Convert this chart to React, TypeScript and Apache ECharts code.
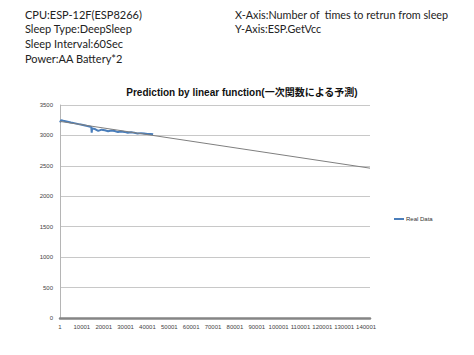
import React, { useEffect, useRef } from "react";
import * as echarts from "echarts";

const infoLeft = ["CPU:ESP-12F(ESP8266)", "Sleep Type:DeepSleep", "Sleep Interval:60Sec", "Power:AA Battery*2"];
const infoRight = ["X-Axis:Number of  times to retrun from sleep", "Y-Axis:ESP.GetVcc"];
const chartTitle = "Prediction by linear function(一次関数による予測)";

const realX = [1, 500, 1500, 3000, 5000, 7000, 9000, 11000, 13000, 14300, 14500, 14700, 16000, 17500, 19000, 20500, 22000, 23500, 25000, 26500, 28000, 29500, 31000, 32500, 34000, 35500, 37000, 38500, 40000, 41500, 42600];
const realY = [3215, 3250, 3240, 3228, 3212, 3198, 3182, 3168, 3152, 3140, 3045, 3115, 3105, 3075, 3095, 3085, 3070, 3082, 3072, 3055, 3066, 3058, 3045, 3052, 3043, 3030, 3038, 3030, 3022, 3025, 3018];

const trendX = [1, 141800];
const trendY = [3230, 2462];

export default function App() {
  const ref = useRef<HTMLDivElement>(null);
  useEffect(() => {
    if (!ref.current) return;
    const chart = echarts.init(ref.current, null, { renderer: "svg" });
    const textFont = "Lato, 'Liberation Sans', sans-serif";
    const graphics: any[] = [];
    infoLeft.forEach((t, i) => {
      graphics.push({
        type: "text",
        left: 25,
        top: 8.5 + i * 14.7,
        style: { text: t, fill: "#222", font: `11px ${textFont}` },
      });
    });
    infoRight.forEach((t, i) => {
      graphics.push({
        type: "text",
        left: 235,
        top: 8.5 + i * 14.7,
        style: { text: t, fill: "#222", font: `10.8px ${textFont}` },
      });
    });
    chart.setOption({
      animation: false,
      backgroundColor: "#fff",
      title: {
        text: chartTitle,
        left: 237,
        textAlign: "center",
        top: 82,
        textStyle: {
          fontSize: 10,
          fontWeight: "bold",
          color: "#111",
          fontFamily: "'Liberation Sans', 'Noto Sans CJK JP', sans-serif",
        },
      },
      graphic: graphics,
      legend: {
        data: ["Real Data"],
        left: 389,
        top: 211,
        itemWidth: 10,
        itemHeight: 2,
        itemGap: 2,
        icon: "rect",
        textStyle: { fontSize: 6, color: "#333", fontFamily: "'Liberation Sans', sans-serif", padding: [0, 0, 0, -3] },
      },
      grid: { left: 60, right: 104, top: 105, bottom: 37 },
      xAxis: {
        type: "value",
        min: 1,
        max: 141800,
        interval: 10000,
        axisLine: { show: true, onZero: false, lineStyle: { color: "#858585", width: 2.5 } },
        axisTick: { show: false },
        splitLine: { show: false },
        axisLabel: {
          fontSize: 6,
          color: "#444",
          margin: 6,
          showMaxLabel: false,
          formatter: (v: number) => String(v),
          fontFamily: "'Liberation Sans', sans-serif",
        },
      },
      yAxis: {
        type: "value",
        min: 0,
        max: 3500,
        interval: 500,
        axisLine: { show: true, lineStyle: { color: "#b5b5b5", width: 1 } },
        axisTick: { show: false },
        splitLine: { show: true, lineStyle: { color: "#c8c8c8", width: 1 } },
        axisLabel: {
          fontSize: 6,
          color: "#444",
          margin: 7,
          formatter: (v: number) => String(v),
          fontFamily: "'Liberation Sans', sans-serif",
        },
      },
      series: [
        {
          name: "Real Data",
          type: "line",
          data: realX.map((x, i) => [x, realY[i]]),
          showSymbol: false,
          lineStyle: { color: "#4a7ebb", width: 2 },
          itemStyle: { color: "#4a7ebb" },
          z: 2,
        },
        {
          name: "Trend",
          type: "line",
          data: trendX.map((x, i) => [x, trendY[i]]),
          showSymbol: false,
          lineStyle: { color: "#7f7f7f", width: 1 },
          itemStyle: { color: "#7f7f7f" },
          z: 3,
        },
      ],
    });
    return () => chart.dispose();
  }, []);
  return <div ref={ref} style={{ position: "fixed", left: 0, top: 0, width: 474, height: 355 }} />;
}
